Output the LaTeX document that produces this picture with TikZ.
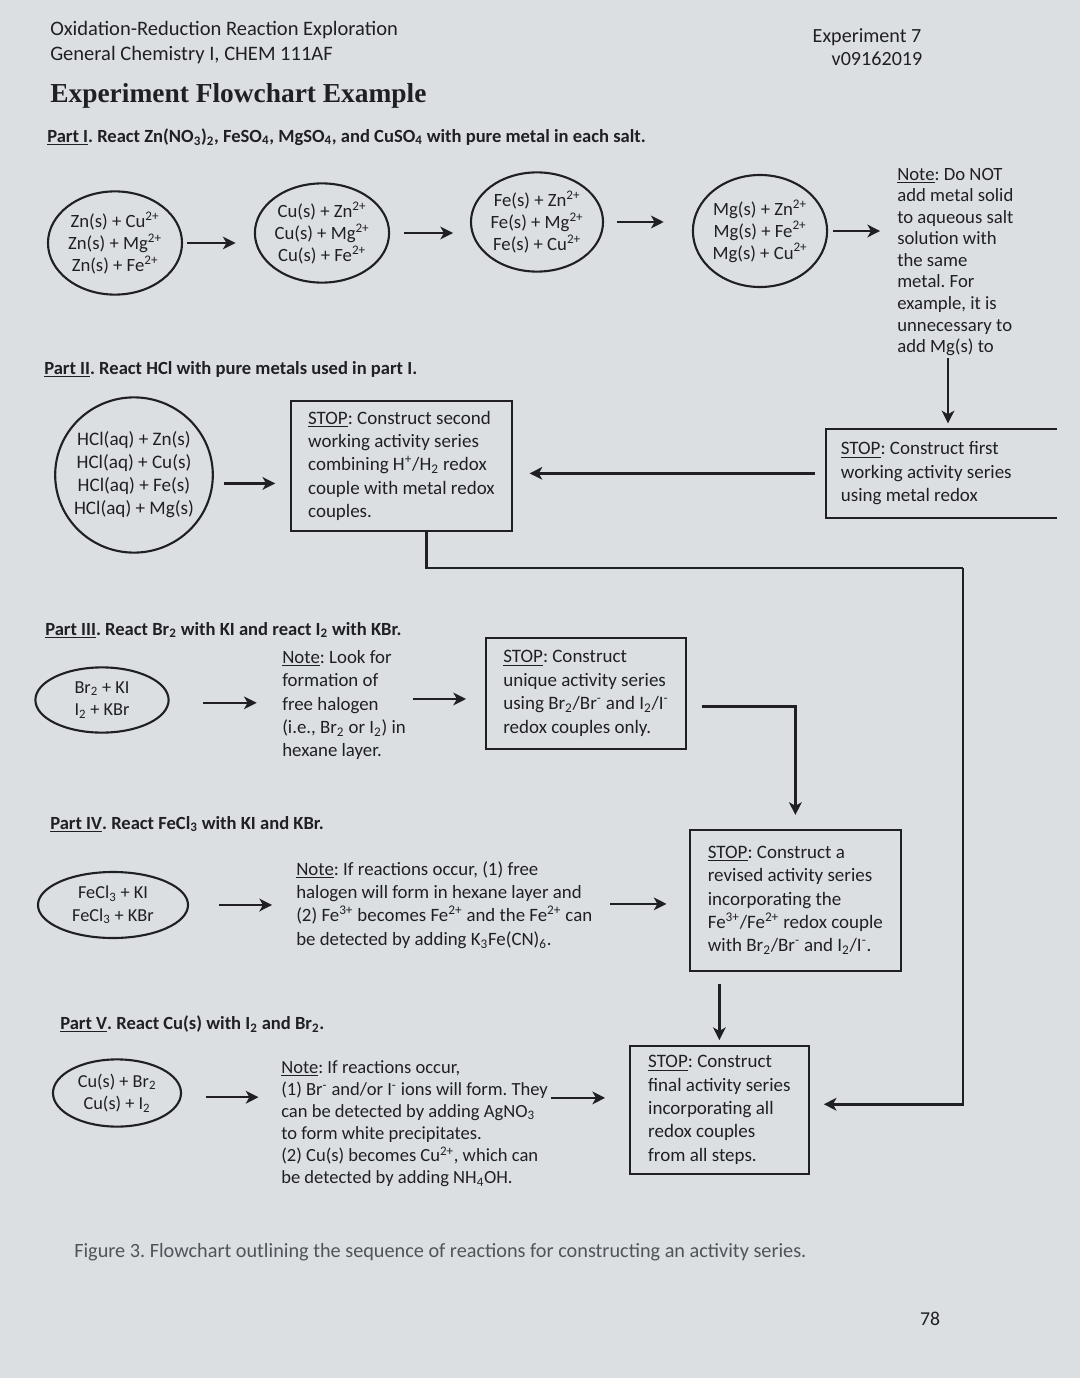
\documentclass[tikz,border=0pt]{standalone}
\usepackage{fontspec}
\setmainfont{Carlito}
\newfontfamily\headfont{Liberation Serif}
\usetikzlibrary{shapes.geometric,arrows.meta}
\definecolor{paper}{RGB}{220,223,226}
\definecolor{ink}{RGB}{32,32,36}
\definecolor{capgrey}{RGB}{80,84,90}
\newcommand{\chup}[1]{\textsuperscript{#1}}
\newcommand{\chdn}[1]{\textsubscript{#1}}
\frenchspacing
\begin{document}
\begin{tikzpicture}[x=0.025cm,y=-0.025cm,color=ink,
    bubble/.style={ellipse,draw,line width=1.5pt,inner sep=0pt,align=center,font=\fontsize{13.3}{15.5}\selectfont},
    stopbox/.style={rectangle,draw,line width=1.2pt,anchor=north west,align=left,inner sep=0pt,font=\fontsize{13.5}{16.6}\selectfont},
    note/.style={anchor=north west,align=left,inner sep=0pt,font=\fontsize{13.4}{16.6}\selectfont},
    partlabel/.style={anchor=west,inner sep=0pt,font=\bfseries\fontsize{13.2}{15}\selectfont},
    arr/.style={line width=1.8pt,-{Stealth[length=9pt,width=9pt,inset=2.5pt]}}]
    \fill[paper] (0,0) rectangle (1080,1378);
    \useasboundingbox (0,0) rectangle (1080,1378);
    % Header
    \node[anchor=west,inner sep=0pt,font=\fontsize{14.6}{17}\selectfont] (title) at (50,30) {Oxidation-Reduction Reaction Exploration};
    \node[anchor=west,inner sep=0pt,font=\fontsize{14.6}{17}\selectfont] (course) at (50,55) {General Chemistry I, CHEM 111AF};
    \node[inner sep=0pt,font=\fontsize{14.3}{17}\selectfont] (expno) at (867,37) {Experiment 7};
    \node[inner sep=0pt,font=\fontsize{14.3}{17}\selectfont] (version) at (877,59) {v09162019};
    \node[anchor=west,inner sep=0pt,font=\headfont\bfseries\fontsize{19.5}{22}\selectfont] (heading) at (50,96) {Experiment Flowchart Example};
    % Part I
    \node[partlabel] (p1) at (47,137) {\underline{Part I}. React Zn(NO\chdn{3})\chdn{2}, FeSO\chdn{4}, MgSO\chdn{4}, and CuSO\chdn{4} with pure metal in each salt.};
    \node[bubble,minimum width=3.35cm,minimum height=2.58cm] (zn) at (115,243) {Zn(s) + Cu\chup{2+}\\Zn(s) + Mg\chup{2+}\\Zn(s) + Fe\chup{2+}};
    \node[bubble,minimum width=3.28cm,minimum height=2.48cm] (cu) at (322,233) {Cu(s) + Zn\chup{2+}\\Cu(s) + Mg\chup{2+}\\Cu(s) + Fe\chup{2+}};
    \node[bubble,minimum width=3.3cm,minimum height=2.48cm] (fe) at (537,222) {Fe(s) + Zn\chup{2+}\\Fe(s) + Mg\chup{2+}\\Fe(s) + Cu\chup{2+}};
    \node[bubble,minimum width=3.13cm,minimum height=2.8cm] (mg) at (760,231) {Mg(s) + Zn\chup{2+}\\Mg(s) + Fe\chup{2+}\\Mg(s) + Cu\chup{2+}};
    \node[note,font=\fontsize{13.3}{15.3}\selectfont] (n1) at (897,168) {\underline{Note}: Do NOT\\add metal solid\\to aqueous salt\\solution with\\the same\\metal. For\\example, it is\\unnecessary to\\add Mg(s) to};
    \node[stopbox,draw=none,inner xsep=0.35cm,text width=5.025cm,align=flush left,minimum height=2.175cm] (s1) at (826,429) {\underline{STOP}: Construct first\\working activity series\\using metal redox};
    \coordinate (n1d) at (948,358);
    % Part II
    \node[partlabel] (p2) at (44,369) {\underline{Part II}. React HCl with pure metals used in part I.};
    \node[bubble,font=\fontsize{13.6}{16.3}\selectfont,inner xsep=-3pt,minimum width=3.9cm,minimum height=3.88cm] (hcl) at (134,475) {HCl(aq) + Zn(s)\\HCl(aq) + Cu(s)\\HCl(aq) + Fe(s)\\HCl(aq) + Mg(s)};
    \node[stopbox,minimum width=5.525cm,minimum height=3.25cm] (s2) at (290,400) {\underline{STOP}: Construct second\\working activity series\\combining H\chup{+}/H\chdn{2} redox\\couple with metal redox\\couples.};
    \coordinate (corner) at (963,568);
    % Part III
    \node[partlabel] (p3) at (45,630) {\underline{Part III}. React Br\chdn{2} with KI and react I\chdn{2} with KBr.};
    \node[bubble,font=\fontsize{13}{16}\selectfont,align=left,minimum width=3.33cm,minimum height=1.63cm] (br) at (102,700) {Br\chdn{2} + KI\\I\chdn{2} + KBr};
    \node[note] (n3) at (282,650) {\underline{Note}: Look for\\formation of\\free halogen\\(i.e., Br\chdn{2} or I\chdn{2}) in\\hexane layer.};
    \node[stopbox,minimum width=5cm,minimum height=2.775cm] (s3) at (485,637) {\underline{STOP}: Construct\\unique activity series\\using Br\chdn{2}/Br\chup{-} and I\chdn{2}/I\chup{-}\\redox couples only.};
    % Part IV
    \node[partlabel] (p4) at (50,824) {\underline{Part IV}. React FeCl\chdn{3} with KI and KBr.};
    \node[bubble,font=\fontsize{13}{16}\selectfont,minimum width=3.75cm,minimum height=1.65cm] (fecl) at (113,905) {FeCl\chdn{3} + KI\\FeCl\chdn{3} + KBr};
    \node[note] (n4) at (296,861) {\underline{Note}: If reactions occur, (1) free\\halogen will form in hexane layer and\\(2) Fe\chup{3+} becomes Fe\chup{2+} and the Fe\chup{2+} can\\be detected by adding K\chdn{3}Fe(CN)\chdn{6}.};
    \node[stopbox,minimum width=5.275cm,minimum height=3.525cm] (s4) at (689,829) {\underline{STOP}: Construct a\\revised activity series\\incorporating the\\Fe\chup{3+}/Fe\chup{2+} redox couple\\with Br\chdn{2}/Br\chup{-} and I\chdn{2}/I\chup{-}.};
    % Part V
    \node[partlabel] (p5) at (60,1024) {\underline{Part V}. React Cu(s) with I\chdn{2} and Br\chdn{2}.};
    \node[bubble,font=\fontsize{13}{16}\selectfont,minimum width=3.2cm,minimum height=1.68cm] (cus) at (117,1093) {Cu(s) + Br\chdn{2}\\Cu(s) + I\chdn{2}};
    \node[note,font=\fontsize{13.2}{15.7}\selectfont] (n5) at (281,1060) {\underline{Note}: If reactions occur,\\(1) Br\chup{-} and/or I\chup{-} ions will form. They\\can be detected by adding AgNO\chdn{3}\\to form white precipitates.\\(2) Cu(s) becomes Cu\chup{2+}, which can\\be detected by adding NH\chdn{4}OH.};
    \node[stopbox,minimum width=4.475cm,minimum height=3.2cm] (s5) at (629,1045) {\underline{STOP}: Construct\\final activity series\\incorporating all\\redox couples\\from all steps.};
    % Footer
    \node[anchor=west,inner sep=0pt,text=capgrey,font=\fontsize{14.4}{17}\selectfont] (caption) at (74,1252) {Figure 3. Flowchart outlining the sequence of reactions for constructing an activity series.};
    \node[inner sep=0pt,font=\fontsize{14}{16}\selectfont] (page) at (930,1319) {78};
    % Edges
    \draw[line width=1.2pt] (s1.north east) -- (s1.north west) -- (s1.south west) -- (s1.south east);
    \draw[arr,shorten <=3pt,shorten >=13pt] (zn.east) -- (zn.east -| cu.west);
    \draw[arr,shorten <=10pt,shorten >=12pt] (cu.east) -- (cu.east -| fe.west);
    \draw[arr,shorten <=9pt,shorten >=20pt] (fe.east) -- (fe.east -| mg.west);
    \draw[arr,shorten <=3.5pt,shorten >=12pt] (mg.east) -- (mg.east -| n1.west);
    \draw[arr,shorten >=4pt] (n1d) -- (n1d |- s1.north);
    \draw[arr,shorten <=8pt,shorten >=12pt] (s1.west) -- (s1.west -| s2.east);
    \draw[arr,shorten <=7pt,shorten >=10.5pt] ([yshift=-6pt]hcl.east) -- ([yshift=-6pt]hcl.east -| s2.west);
    \draw[line width=1.8pt] ([xshift=18pt]s2.south) |- (corner);
    \draw[arr,shorten >=10pt] (corner) |- ([yshift=4pt]s5.east);
    \draw[arr,shorten <=24pt,shorten >=18pt] ([yshift=-2pt]br.east) -- ([yshift=-2pt]br.east -| n3.west);
    \draw[arr,shorten <=5pt,shorten >=13.5pt] ([yshift=-4pt]s3.west -| n3.east) -- ([yshift=-4pt]s3.west);
    \draw[arr,shorten <=10.5pt,shorten >=10pt] ([yshift=-9.5pt]s3.east) -| (s4.north);
    \draw[arr,shorten <=21pt,shorten >=17pt] (fecl.east) -- (fecl.east -| n4.west);
    \draw[arr,shorten <=12.5pt,shorten >=16pt] ([yshift=-2.5pt]s4.west -| n4.east) -- ([yshift=-2.5pt]s4.west);
    \draw[arr,shorten <=8.5pt,shorten >=3.5pt] (s5.north |- s4.south) -- (s5.north);
    \draw[arr,shorten <=17pt,shorten >=16pt] ([yshift=-3pt]cus.east) -- ([yshift=-3pt]cus.east -| n5.west);
    \draw[arr,shorten <=2pt,shorten >=17pt] ([yshift=8.5pt]s5.west -| n5.east) -- ([yshift=8.5pt]s5.west);
\end{tikzpicture}
\end{document}
